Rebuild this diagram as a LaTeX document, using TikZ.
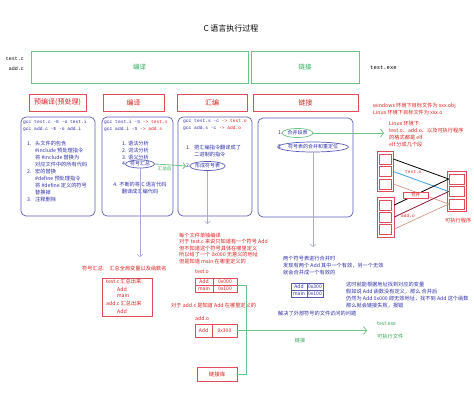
\documentclass[tikz,border=0pt]{standalone}
\usepackage{fontspec}
\setmonofont{Liberation Mono}
\newfontfamily\cjk{Noto Sans CJK SC}
\usetikzlibrary{arrows.meta,shapes.geometric}
\definecolor{lgreen}{RGB}{110,195,135}
\definecolor{tgreen}{RGB}{50,165,85}
\definecolor{lred}{RGB}{225,75,90}
\definecolor{tred}{RGB}{220,30,30}
\definecolor{lblue}{RGB}{90,90,180}
\definecolor{tblue}{RGB}{45,45,170}
\definecolor{arrblue}{RGB}{170,170,215}
\definecolor{elfblue}{RGB}{60,160,220}
\definecolor{elfbrown}{RGB}{205,140,120}
\definecolor{elfdark}{RGB}{140,20,50}
\tikzset{
  stagebox/.style={draw=lgreen,line width=0.8pt,text=tgreen,inner sep=0pt,font=\cjk\fontsize{6.5}{8}\selectfont},
  phasebox/.style={draw=lred,line width=0.8pt,text=tred,inner sep=0pt,font=\cjk\fontsize{7}{8}\selectfont},
  colbox/.style={draw=lblue,line width=0.7pt,rounded corners=5pt,inner sep=0pt},
  note/.style={font=\cjk\fontsize{5.2}{7}\selectfont,inner sep=0pt,align=left,anchor=north west},
  code/.style={font=\ttfamily\fontsize{4.6}{7}\selectfont,inner sep=0pt,align=left,anchor=north west},
  word/.style={font=\cjk\fontsize{5.2}{7}\selectfont,inner sep=0pt,anchor=west},
  oval/.style={ellipse,draw=lblue,line width=0.7pt,inner sep=0pt,text=tblue,font=\cjk\fontsize{5}{7}\selectfont},
  cell/.style={draw=lred,line width=0.6pt,inner sep=0pt,text=tred,font=\cjk\fontsize{5}{7}\selectfont},
  bcell/.style={draw=lblue,line width=0.6pt,inner sep=0pt,text=tblue,font=\cjk\fontsize{5}{7}\selectfont},
  seg/.style={draw=lred,line width=0.7pt,inner sep=0pt},
  down/.style={draw=arrblue,line width=0.6pt,-{Straight Barb[length=2.5pt,width=6pt]}},
  link/.style={draw=lgreen,line width=0.8pt}
}
\begin{document}
\begin{tikzpicture}[x=1pt,y=-1pt]
\useasboundingbox (0,0) rectangle (474,406);
\node[font=\cjk\fontsize{8}{9}\selectfont] (title) at (231,28) {C 语言执行过程};
\node[code,anchor=east,font=\ttfamily\fontsize{5}{7}\selectfont] (src1) at (24,59) {test.c};
\node[code,anchor=east,font=\ttfamily\fontsize{5}{7}\selectfont] (src2) at (24,69) {add.c};
\node[stagebox,minimum width=217pt,minimum height=32pt] (bianyi) at (139.5,67) {编译};
\node[stagebox,minimum width=108pt,minimum height=32pt] (lianjie) at (305,67) {链接};
\node[code,anchor=west,font=\ttfamily\fontsize{5.5}{7}\selectfont] (exe) at (370,68) {test.exe};

\node[phasebox,minimum width=57pt,minimum height=17pt] (yu) at (57.5,102.5) {预编译(预处理)};
\node[phasebox,minimum width=61pt,minimum height=17pt] (bian) at (133.5,102.5) {编译};
\node[phasebox,minimum width=70pt,minimum height=17pt] (hui) at (212,102.5) {汇编};
\node[phasebox,minimum width=105pt,minimum height=17pt] (lian) at (305.5,102.5) {链接};
\node[note,text=tred] (objnote) at (373,102.5) {windows 环境下目标文件为 xxx.obj\\Linux 环境下目标文件为 xxx.o};

\node[colbox,minimum width=74pt,minimum height=99pt] (c1) at (58,166.5) {};
\node[colbox,minimum width=71pt,minimum height=99pt] (c2) at (137.5,166.5) {};
\node[colbox,minimum width=74pt,minimum height=99pt] (c3) at (215,166.5) {};
\node[colbox,minimum width=95pt,minimum height=99pt] (c4) at (305.5,167.5) {};

\node[code,text=tblue] (c1gcc) at (23,119.5) {gcc test.c -E -o test.i\\gcc add.c -E -o add.i};
\node[note,text=tblue] (c1list) at (27,140.5) {\makebox[8pt][l]{1.}头文件的包含\\
\hspace*{8pt}\#include 预处理指令\\
\hspace*{8pt}将 \#include 替换为\\
\hspace*{8pt}对应文件中的所有代码\\
\makebox[8pt][l]{2.}宏的替换\\
\hspace*{8pt}\#define 预处理指令\\
\hspace*{8pt}将 \#define 定义的符号\\
\hspace*{8pt}替换掉\\
\makebox[8pt][l]{3.}注释删除};

\node[code,text=tblue] (c2gcc) at (104,119.5) {gcc test.i -S {\color{tred}-> test.s}\\gcc add.i -S {\color{tred}-> add.s}};
\node[note,text=tblue] (c2list) at (122,140.5) {1. 语法分析\\2. 词法分析\\3. 语义分析};
\node[word,text=tblue] (n24) at (122,164) {4.};
\node[oval,minimum width=29pt,minimum height=8pt] (fhhz) at (140,164) {符号汇总};
\node[note,text=tblue,align=center,anchor=north] (c2fy) at (140,181.5) {4. 不断的将 C 语言代码\\翻译成汇编代码};

\node[code,text=tblue] (c3gcc) at (183,119.5) {gcc test.s -c {\color{tred}-> test.o}\\gcc add.s -c {\color{tred}-> add.o}};
\node[note,text=tblue] (c3list) at (186,144.5) {\makebox[8pt][l]{1.}把汇编指令翻译成了\\\hspace*{8pt}二进制的指令};
\node[word,text=tblue] (n32) at (186,166) {2.};
\node[oval,minimum width=30pt,minimum height=9pt] (xcfh) at (207.5,166) {形成符号表};

\node[word,text=tblue] (n41) at (278,133) {1.};
\node[oval,draw=lgreen,minimum width=31pt,minimum height=9pt] (hbdb) at (297.5,133) {合并段表};
\node[word,text=tblue] (n42) at (278,147) {2.};
\node[oval,minimum width=58pt,minimum height=10pt] (fhhb) at (313,147) {符号表的合并和重定位};

\draw[link,-{Straight Barb[length=2.5pt,width=6pt]}] (fhhz.east) -- (n32.west);
\node[word,text=tgreen,font=\cjk\fontsize{4.5}{6}\selectfont] (hzh) at (158,169) {汇总后};
\coordinate (elfin) at (384,133);
\draw[link,-{Straight Barb[length=3pt,width=8pt]}] (hbdb.east) -- (elfin);
\node[note,text=tred] (elfnote) at (389,120.5) {Linux 环境下:\\test.o、add.o、以及可执行程序\\的格式都是 elf\\elf 分成几个段};

\node[seg,minimum width=16pt,minimum height=40pt] (g1) at (385,171) {};
\node[seg,minimum width=12pt,minimum height=10pt] (g1a) at (385,159) {};
\node[seg,minimum width=12pt,minimum height=10pt] (g1b) at (385,171.5) {};
\node[seg,minimum width=12pt,minimum height=10pt] (g1c) at (385,184) {};
\node[seg,minimum width=17pt,minimum height=40pt] (g2) at (385.5,217) {};
\node[seg,minimum width=12pt,minimum height=10pt] (g2a) at (385.5,205) {};
\node[seg,minimum width=12pt,minimum height=10pt] (g2b) at (385.5,217) {};
\node[seg,minimum width=12pt,minimum height=10pt] (g2c) at (385.5,229) {};
\node[seg,minimum width=19pt,minimum height=40pt] (r) at (456.5,191.5) {};
\node[seg,minimum width=15pt,minimum height=10pt] (ra) at (456.5,179) {};
\node[seg,minimum width=15pt,minimum height=10pt] (rb) at (456.5,191.5) {};
\node[seg,minimum width=15pt,minimum height=10pt] (rc) at (456.5,204) {};
\draw[black,line width=0.8pt] (g1.east |- g1a) -- (ra.west);
\draw[elfblue,line width=0.8pt] (g1.east |- g1b) -- (rb.west);
\draw[elfbrown,line width=0.6pt] (g1.east |- g1c) -- (rc.west);
\draw[black,line width=0.8pt] (g2.east |- g2a) -- (ra.west);
\draw[elfdark,line width=0.8pt] (g2.east |- g2b) -- (rb.west);
\draw[elfbrown,line width=0.6pt] (g2.east |- g2c) -- (rc.west);
\node[word,text=tred,font=\ttfamily\fontsize{4.5}{6}\selectfont] (lto) at (405,172) {test.o};
\node[seg,fill=white,text=tred,font=\cjk\fontsize{4.5}{6}\selectfont,minimum width=25pt,minimum height=6pt] (hb) at (415.5,195) {合并};
\node[word,text=tred,font=\ttfamily\fontsize{4.5}{6}\selectfont] (lao) at (401,216) {add.o};
\node[word,text=tred] (lexe) at (445,221) {可执行程序};

\coordinate (d1) at (140,257);
\draw[down] (fhhz.south) -- (d1);
\node[word,text=tred] (sumt) at (82,269) {符号汇总:\hspace{5pt}汇总全局变量以及函数名};
\node[seg,minimum width=50pt,minimum height=38pt] (sumbox) at (127,297) {};
\node[word,text=tred] (s1) at (106,282) {test.c 汇总出来:};
\node[word,text=tred,anchor=center] (s2) at (122,289) {Add};
\node[word,text=tred,anchor=center] (s3) at (123,296) {main};
\node[word,text=tred] (s4) at (106,304) {add.c 汇总出来};
\node[word,text=tred,anchor=center] (s5) at (122,311) {Add};

\coordinate (d2) at (207.5,224);
\draw[down] (xcfh.south) -- (d2);
\node[note,text=tred,font=\cjk\fontsize{5.2}{6.5}\selectfont] (sep) at (179,232.5) {每个文件单独编译\\对于 test.c 来说只知道有一个符号 Add\\但不知道这个符号具体在哪里定义\\所以给了一个 0x000 无意义的地址\\但是知道 main 在哪里定义的};
\node[word,text=tred] (lto2) at (195,272) {test.o};
\node[cell,minimum width=18pt,minimum height=7pt] (ta1) at (204,281.5) {Add};
\node[cell,minimum width=24pt,minimum height=7pt] (tb1) at (225,281.5) {0x000};
\node[cell,minimum width=18pt,minimum height=7pt] (ta2) at (204,288.5) {main};
\node[cell,minimum width=24pt,minimum height=7pt] (tb2) at (225,288.5) {0x100};
\node[word,text=tred] (addnote) at (171,306) {对于 add.c 是知道 Add 在哪里定义的};
\node[word,text=tred] (lao2) at (195,318) {add.o};
\node[cell,minimum width=17pt,minimum height=13pt] (aa) at (203.5,330.5) {Add};
\node[cell,minimum width=25pt,minimum height=13pt] (ab) at (224.5,330.5) {0x300};
\node[cell,minimum width=40pt,minimum height=14pt,font=\cjk\fontsize{5.5}{7}\selectfont] (lib) at (217,374) {链接库};
\draw[link] (tb1.south east) -- ++(9,0) |- (lib.east);
\coordinate (exeend) at (367,330.5);
\draw[link,-{Straight Barb[length=3pt,width=8pt]}] (ab.east) -- (exeend);
\node[word,text=tgreen,anchor=center] (ljt) at (300,341) {链接};
\node[word,text=tgreen] (exe2) at (377,324) {test.exe};
\node[word,text=tgreen] (exe3) at (377,337) {可执行文件};

\coordinate (d3) at (313,247);
\draw[down] (fhhb.south) -- (d3);
\node[note,text=tblue] (mrg) at (283,255.5) {两个符号表进行合并时\\发现有两个 Add 其中一个有效，另一个无效\\就会合并成一个有效的};
\node[bcell,minimum width=16pt,minimum height=7pt] (ba1) at (299,286.5) {Add};
\node[bcell,minimum width=16pt,minimum height=7pt] (bb1) at (315,286.5) {0x300};
\node[bcell,minimum width=16pt,minimum height=7pt] (ba2) at (299,293.5) {main};
\node[bcell,minimum width=16pt,minimum height=7pt] (bb2) at (315,293.5) {0x100};
\node[note,text=tblue] (fail) at (346,281.5) {这时就能根据地址找到对应的变量\\假如说 Add 函数没有定义，那么 合并后\\仍然为 Add 0x000 即无效地址，找不到 Add 这个函数\\那么就会链接失败，报错};
\node[word,text=tblue] (solve) at (278,314) {解决了外部符号的文件访问的问题};
\end{tikzpicture}
\end{document}
